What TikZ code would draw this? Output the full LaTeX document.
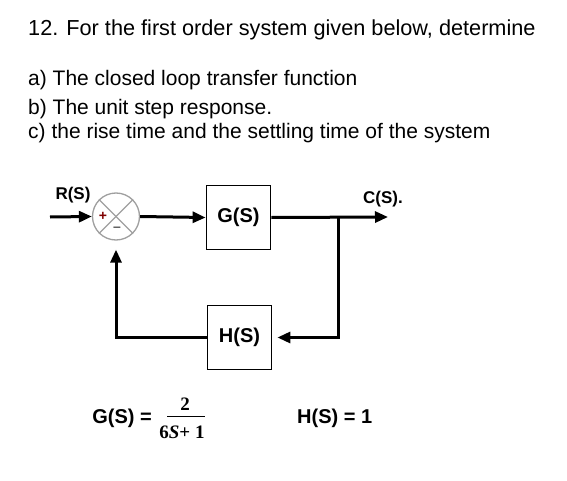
\documentclass[tikz,border=0pt]{standalone}
\usepackage{fontspec}
\setmainfont{Liberation Sans}
\newfontfamily\eqfont{Liberation Serif}
\usetikzlibrary{arrows.meta, positioning, calc}

\begin{document}
\begin{tikzpicture}[x=1pt, y=-1pt,
    question/.style={anchor=base west, inner sep=0pt, font=\fontsize{21}{24}\selectfont},
    block/.style={draw, line width=1.8pt, minimum width=64pt, minimum height=64pt, inner sep=0pt, font=\bfseries\fontsize{20}{22}\selectfont},
    siglabel/.style={inner sep=0pt, font=\bfseries\fontsize{17}{20}\selectfont},
    eqlabel/.style={inner sep=0pt, font=\bfseries\fontsize{20}{22}\selectfont},
    fraclabel/.style={inner sep=0pt, font=\eqfont\bfseries\fontsize{19}{20}\selectfont},
    sig/.style={line width=3pt},
    sigarrow/.style={sig, -{Triangle[length=13pt, width=11pt]}}]
    \useasboundingbox (0,0) rectangle (567,481);

    % question text
    \node[question, font=\fontsize{21.7}{24}\selectfont] (title) at (28,36) {12. For the first order system given below, determine};
    \node[question] (parta) at (28,86) {a) The closed loop transfer function};
    \node[question] (partb) at (28,115) {b) The unit step response.};
    \node[question] (partc) at (28,139) {c) the rise time and the settling time of the system};

    % blocks
    \node[circle, draw=gray!75, line width=1.3pt, minimum size=47pt, inner sep=0pt] (sum) at (116,216.5) {};
    \draw[gray!75, line width=1.1pt] (sum.north west) -- (sum.south east);
    \draw[gray!75, line width=1.1pt] (sum.north east) -- (sum.south west);
    \node[inner sep=0pt, text=black!50!red, font=\bfseries\fontsize{14}{14}\selectfont] (plus) at (103,216) {+};
    \node[inner sep=0pt, text=black!65, font=\bfseries\fontsize{14}{14}\selectfont] (minus) at (117,229) {--};
    \node[block] (gbox) at (238.5,217.5) {G(S)};
    \node[block] (hbox) at (239.5,337.5) {H(S)};

    % signals
    \coordinate (in) at (50,217);
    \coordinate (out) at (388,217);
    \coordinate (branch) at (338,217);
    \coordinate (fbr) at (338,337.5);
    \coordinate (fbl) at (116,337.5);
    \node[siglabel] (rlabel) at (73,195) {R(S)};
    \node[siglabel] (clabel) at (383,199) {C(S).};

    \draw[sigarrow] (in) -- (sum.west);
    \draw[sigarrow] (sum.east) -- (gbox.west);
    \draw[sigarrow] (gbox.east) -- (out);
    \draw[sigarrow] (branch) -- (fbr) -- ($(hbox.east)+(5,0)$);
    \draw[sigarrow] (hbox.west) -- (fbl) -- ($(sum.south)+(0,9)$);

    % transfer functions
    \node[eqlabel, anchor=east] (geq) at (152,418) {G(S) =};
    \node[fraclabel] (gnum) at (185,404) {2};
    \node[fraclabel] (gden) at (182,432) {6\textit{S}+ 1};
    \draw[line width=1.2pt] (167,416.5) -- (205,416.5);
    \node[eqlabel, anchor=west] (heq) at (297,418) {H(S) = 1};
\end{tikzpicture}
\end{document}
